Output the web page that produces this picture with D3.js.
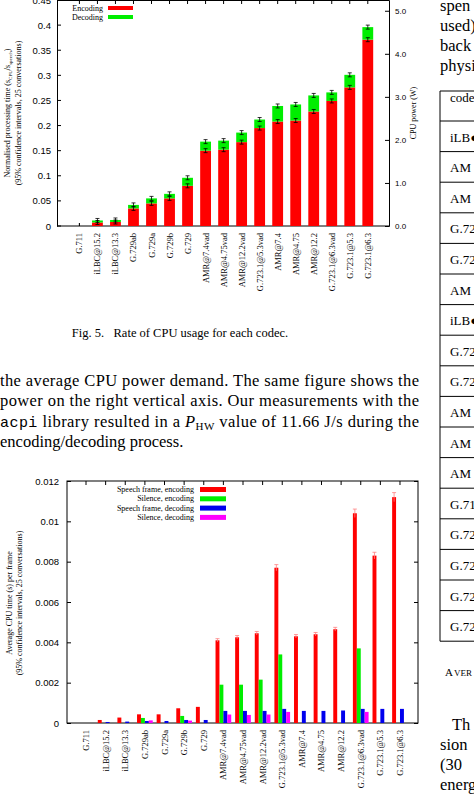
<!DOCTYPE html>
<html><head><meta charset="utf-8">
<script src="https://cdn.jsdelivr.net/npm/d3@7"></script>
<style>
body{margin:0;background:#fff;overflow:hidden}
svg{font-family:"Liberation Serif","DejaVu Serif",serif}
.tick text{font-size:9.5px}
</style></head><body>
<div id="page"></div>
<script>
var codecs = ["G.711","iLBC@15.2","iLBC@13.3","G.729ab","G.729a","G.729b","G.729",
  "AMR@7.4vad","AMR@4.75vad","AMR@12.2vad","G.723.1@5.3vad","AMR@7.4","AMR@4.75",
  "AMR@12.2","G.723.1@6.3vad","G.723.1@5.3","G.723.1@6.3"];
// top chart: normalised processing time
var encoding = [0,0.007,0.008,0.035,0.045,0.055,0.080,0.150,0.152,0.167,0.195,0.208,0.210,0.228,0.249,0.276,0.371];
var decoding = [0,0.004,0.004,0.007,0.010,0.009,0.016,0.018,0.018,0.019,0.017,0.031,0.032,0.032,0.017,0.025,0.025];
var leftTicks = [0,0.05,0.1,0.15,0.2,0.25,0.3,0.35,0.4,0.45];
var rightTicks = [0,1,2,3,4,5];
// bottom chart: average CPU time per frame
var speechEnc = [0,0.00015,0.00027,0.00043,0.00043,0.00073,0.0008,0.0041,0.00425,0.00445,0.0077,0.0043,0.0044,0.00465,0.0104,0.0083,0.0112];
var silenceEnc = [0,0,0,0.00025,0,0.00035,0,0.0019,0.0019,0.00215,0.0034,0,0,0,0.0037,0,0];
var speechDec = [0,0.00005,0.00007,0.0001,0.0001,0.00015,0.00015,0.0006,0.0006,0.0006,0.0007,0.0006,0.0006,0.00062,0.0007,0.0007,0.0007];
var silenceDec = [0,0,0,0.00013,0,0.00012,0,0.00042,0.0004,0.00042,0.00055,0,0,0,0.00055,0,0];
var bottomTicks = [0,0.002,0.004,0.006,0.008,0.01,0.012];
var tableRows = ["code","iLB\u25cf","AM","AM","G.72","G.72","AM","iLB\u25cf","G.72","G.72","AM","AM","AM","G.71","G.72","G.72","G.72","G.72"];

var svg = d3.select("#page").append("svg").attr("width",474).attr("height",801);

// ---------- top chart ----------
var t = {left:57,right:389,top:0,bottom:226};
var x1 = d3.scaleBand().domain(codecs).range([66.8,380.4]).padding(0.4);
var y1 = d3.scaleLinear().domain([0,0.45]).range([t.bottom,t.top]);
var y1r = d3.scaleLinear().domain([0,5.25]).range([t.bottom,t.top]);
var g1 = svg.append("g");

g1.append("g").attr("transform","translate("+t.left+",0)")
  .call(d3.axisLeft(y1).tickValues(leftTicks).tickSize(0).tickPadding(6).tickFormat(d3.format("~g")))
  .call(function(a){a.select(".domain").attr("stroke","#000");});
g1.selectAll(".lt").data(leftTicks).enter().append("line")
  .attr("x1",t.left).attr("x2",t.left+4).attr("y1",y1).attr("y2",y1).attr("stroke","#000");
g1.append("g").attr("transform","translate("+t.right+",0)")
  .call(d3.axisRight(y1r).tickValues(rightTicks).tickSize(-4).tickPadding(6))
  .call(function(a){a.select(".domain").attr("stroke","#000");a.selectAll("text").style("font-size","8px");});
g1.append("line").attr("x1",t.left).attr("x2",t.right).attr("y1",t.bottom).attr("y2",t.bottom).attr("stroke","#000");
g1.append("line").attr("x1",t.left).attr("x2",t.right).attr("y1",0.5).attr("y2",0.5).attr("stroke","#000");
g1.selectAll(".tt").data(codecs).enter().append("line")
  .attr("x1",function(d){return x1(d)+x1.bandwidth()/2;}).attr("x2",function(d){return x1(d)+x1.bandwidth()/2;})
  .attr("y1",0).attr("y2",4).attr("stroke","#000");

g1.selectAll(".enc").data(codecs).enter().append("rect")
  .attr("x",function(d){return x1(d);}).attr("width",x1.bandwidth())
  .attr("y",function(d,i){return y1(encoding[i]);})
  .attr("height",function(d,i){return y1(0)-y1(encoding[i]);}).attr("fill","#ff0000");
g1.selectAll(".dec").data(codecs).enter().append("rect")
  .attr("x",function(d){return x1(d);}).attr("width",x1.bandwidth())
  .attr("y",function(d,i){return y1(encoding[i]+decoding[i]);})
  .attr("height",function(d,i){return y1(encoding[i])-y1(encoding[i]+decoding[i]);}).attr("fill","#00ee00");
// error bars
[function(i){return encoding[i];},function(i){return encoding[i]+decoding[i];}].forEach(function(f){
  g1.selectAll(null).data(codecs).enter().append("path")
    .attr("d",function(d,i){var cx=x1(d)+x1.bandwidth()/2, v=f(i);
      if(v===0) return "M"+cx+","+(t.bottom-3)+"V"+t.bottom;
      var a=y1(v)-2,b=y1(v)+2;
      return "M"+(cx-2)+","+a+"H"+(cx+2)+"M"+cx+","+a+"V"+b+"M"+(cx-2)+","+b+"H"+(cx+2);})
    .attr("stroke","#000").attr("stroke-width",0.8).attr("fill","none");
});
g1.selectAll(".xl").data(codecs).enter().append("text")
  .attr("transform",function(d){return "translate("+(x1(d)+x1.bandwidth()/2+3)+","+(t.bottom+7)+") rotate(-90)";})
  .attr("text-anchor","end").style("font-size","8.5px").text(function(d){return d;});
// legend
[["Encoding","#ff0000"],["Decoding","#00ee00"]].forEach(function(l,i){
  g1.append("text").attr("x",103).attr("y",11+i*9).attr("text-anchor","end").style("font-size","8px").text(l[0]);
  g1.append("rect").attr("x",108).attr("y",6+i*9).attr("width",25).attr("height",4).attr("fill",l[1]);
});
var yt = g1.append("text").attr("transform","translate(10,113) rotate(-90)").attr("text-anchor","middle").style("font-size","8px");
yt.append("tspan").text("Normalised processing time (s");
yt.append("tspan").attr("dy",2).style("font-size","5px").text("CPU");
yt.append("tspan").attr("dy",-2).text("/s");
yt.append("tspan").attr("dy",2).style("font-size","5px").text("speech");
yt.append("tspan").attr("dy",-2).text(")");
g1.append("text").attr("transform","translate(21,113) rotate(-90)").attr("text-anchor","middle").style("font-size","8px")
  .text("(95% confidence intervals, 25 conversations)");
g1.append("text").attr("transform","translate(416,113) rotate(-90)").attr("text-anchor","middle").style("font-size","8px")
  .text("CPU power (W)");

// ---------- body text ----------
svg.append("text").attr("x",180).attr("y",337).attr("text-anchor","middle").style("font-size","12.5px")
  .text("Fig. 5.\u00a0\u00a0\u00a0Rate of CPU usage for each codec.");
var para = [["the average CPU power demand. The same figure shows the",true],
            ["power on the right vertical axis. Our measurements with the",true],
            [null,true],["encoding/decoding process.",false]];
para.forEach(function(p,i){
  var tx = svg.append("text").attr("x",0).attr("y",386+i*20.3).style("font-size","16.5px");
  if(p[1]) tx.attr("textLength",419).attr("lengthAdjust","spacing");
  if(p[0]) tx.text(p[0]);
  else {
    tx.append("tspan").style("font-family","'Liberation Mono',monospace").style("font-size","15px").text("acpi");
    tx.append("tspan").text(" library resulted in a ");
    tx.append("tspan").style("font-style","italic").text("P");
    tx.append("tspan").attr("dy",3).style("font-size","11px").text("HW");
    tx.append("tspan").attr("dy",-3).text(" value of 11.66 J/s during the");
  }
});

// ---------- bottom chart ----------
var b = {left:67,right:418,top:481,bottom:723};
var x2 = d3.scaleBand().domain(codecs).range([76.2,409.8]);
var xs = d3.scaleBand().domain([0,1,2,3]).range([0,x2.bandwidth()]).paddingOuter(0.5);
var y2 = d3.scaleLinear().domain([0,0.012]).range([b.bottom,b.top]);
var g2 = svg.append("g");
g2.append("rect").attr("x",b.left).attr("y",b.top).attr("width",b.right-b.left).attr("height",b.bottom-b.top)
  .attr("fill","none").attr("stroke","#000");
g2.append("g").attr("transform","translate("+b.left+",0)")
  .call(d3.axisLeft(y2).tickValues(bottomTicks).tickSize(-4).tickPadding(8).tickFormat(d3.format("~g")))
  .call(function(a){a.select(".domain").remove();});
g2.append("g").attr("transform","translate("+b.right+",0)")
  .call(d3.axisRight(y2).tickValues(bottomTicks).tickSize(-4).tickFormat(""))
  .call(function(a){a.select(".domain").remove();});
g2.selectAll(".bt").data(codecs).enter().append("line")
  .attr("x1",function(d){return x2(d)+x2.bandwidth()/2;}).attr("x2",function(d){return x2(d)+x2.bandwidth()/2;})
  .attr("y1",b.top).attr("y2",b.top+4).attr("stroke","#000");
var series = [[speechEnc,"#ff0000"],[silenceEnc,"#00ee00"],[speechDec,"#0000ee"],[silenceDec,"#ff00ff"]];
series.forEach(function(s,k){
  g2.selectAll(null).data(codecs).enter().append("rect")
    .attr("x",function(d){return x2(d)+xs(k);}).attr("width",xs.bandwidth())
    .attr("y",function(d,i){return y2(s[0][i]);})
    .attr("height",function(d,i){return y2(0)-y2(s[0][i]);}).attr("fill",s[1]);
});
g2.selectAll(".eb").data(codecs).enter().append("path")
  .attr("d",function(d,i){var v=speechEnc[i]; if(v<0.003) return null;
    var cx=x2(d)+xs(0)+xs.bandwidth()/2, a=y2(v*1.02), c=y2(v*0.98);
    return "M"+(cx-2)+","+a+"H"+(cx+2)+"M"+cx+","+a+"V"+c;})
  .attr("stroke","#ff8080").attr("stroke-width",0.8);
g2.selectAll(".xl2").data(codecs).enter().append("text")
  .attr("transform",function(d){return "translate("+(x2(d)+x2.bandwidth()/2+3)+","+(b.bottom+7)+") rotate(-90)";})
  .attr("text-anchor","end").style("font-size","8.5px").text(function(d){return d;});
["Speech frame, encoding","Silence, encoding","Speech frame, decoding","Silence, decoding"].forEach(function(l,i){
  g2.append("text").attr("x",194).attr("y",492+i*9.3).attr("text-anchor","end").style("font-size","8px").text(l);
  g2.append("rect").attr("x",200).attr("y",487+i*9.3).attr("width",26).attr("height",5).attr("fill",series[i][1]);
});
g2.append("text").attr("transform","translate(12,603) rotate(-90)").attr("text-anchor","middle").style("font-size","8px")
  .text("Average CPU time (s) per frame");
g2.append("text").attr("transform","translate(22,603) rotate(-90)").attr("text-anchor","middle").style("font-size","8px")
  .text("(95% confidence intervals, 25 conversations)");

// ---------- right column ----------
["spen","used)","back","physi"].forEach(function(w,i){
  svg.append("text").attr("x",440).attr("y",11+i*20).style("font-size","16.5px").text(w);
});
var rowY = d3.scaleLinear().domain([0,1]).range([121,151.6]);
svg.append("line").attr("x1",440).attr("x2",474).attr("y1",91).attr("y2",91).attr("stroke","#000");
svg.append("line").attr("x1",440).attr("x2",440).attr("y1",91).attr("y2",rowY(17)).attr("stroke","#000");
tableRows.forEach(function(r,i){
  var yb = i===0 ? 121 : rowY(i);
  svg.append("line").attr("x1",440).attr("x2",474).attr("y1",yb).attr("y2",yb).attr("stroke","#000");
  svg.append("text").attr("x",450).attr("y",i===0?102:yb-10).style("font-size","13px").text(r);
});
svg.append("text").attr("x",445).attr("y",676).style("font-size","11px").text("A");
svg.append("text").attr("x",454).attr("y",676).style("font-size","9px").text("VER");
[["Th",452],["sion",440],["(30",440],["energ",440]].forEach(function(w,i){
  svg.append("text").attr("x",w[1]).attr("y",730+i*20).style("font-size","16.5px").text(w[0]);
});
</script>
</body></html>
